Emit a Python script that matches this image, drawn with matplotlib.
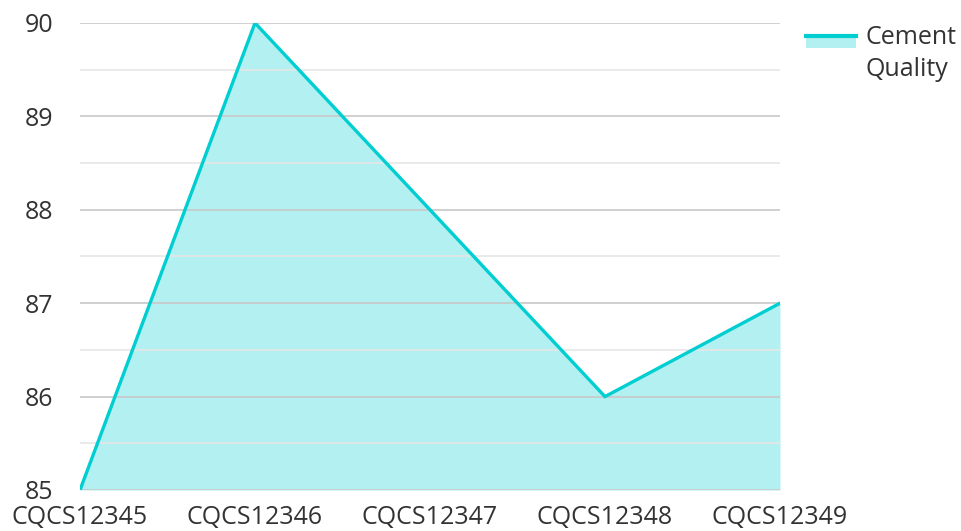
import matplotlib
matplotlib.use("Agg")
import matplotlib.pyplot as plt
from matplotlib.patches import Rectangle
from matplotlib.lines import Line2D

# data
batches = ["CQCS12345", "CQCS12346", "CQCS12347", "CQCS12348", "CQCS12349"]
quality = [85, 90, 88, 86, 87]
series_name = "Cement\nQuality"

LINE = "#00CED1"
TEXT = "#333333"

plt.rcParams["font.family"] = ["Open Sans", "DejaVu Sans"]

W, H = 962, 531
fig = plt.figure(figsize=(W / 100, H / 100), dpi=100)
ax = fig.add_axes([80 / W, 1 - 490 / H, 700 / W, 467 / H])

x = list(range(len(batches)))
ax.fill_between(x, quality, 85, color=LINE, alpha=0.3, linewidth=0, zorder=1)
ax.plot(x, quality, color=LINE, linewidth=2.4, zorder=3, solid_joinstyle="miter")

ax.set_xlim(0, len(batches) - 1)
ax.set_ylim(85, 90)
ax.set_yticks(range(85, 91))
ax.set_yticks([85.5 + i for i in range(5)], minor=True)
ax.set_xticks(x)
ax.set_xticklabels(batches)

ax.grid(True, which="major", axis="y", color="#c8c8c8", linewidth=1.2, zorder=2)
ax.grid(True, which="minor", axis="y", color="#e6e6e6", linewidth=1.2, zorder=2)
ax.set_axisbelow(False)
for s in ax.spines.values():
    s.set_visible(False)
ax.tick_params(axis="both", which="both", length=0, labelsize=18, labelcolor=TEXT)
ax.tick_params(axis="y", pad=19)
ax.tick_params(axis="x", pad=11)

# legend drawn in figure pixel space
fig.add_artist(Rectangle((806 / W, 1 - 48 / H), 50 / W, 12 / H,
                         transform=fig.transFigure, facecolor=LINE, alpha=0.3, linewidth=0))
fig.add_artist(Line2D([806 / W, 856 / W], [1 - 36 / H, 1 - 36 / H],
                      transform=fig.transFigure, color=LINE, linewidth=3))
fig.text(866 / W, 1 - 25 / H, series_name, fontsize=18, color=TEXT,
         va="top", ha="left", linespacing=1.37)

fig.savefig("out.png", dpi=100)
